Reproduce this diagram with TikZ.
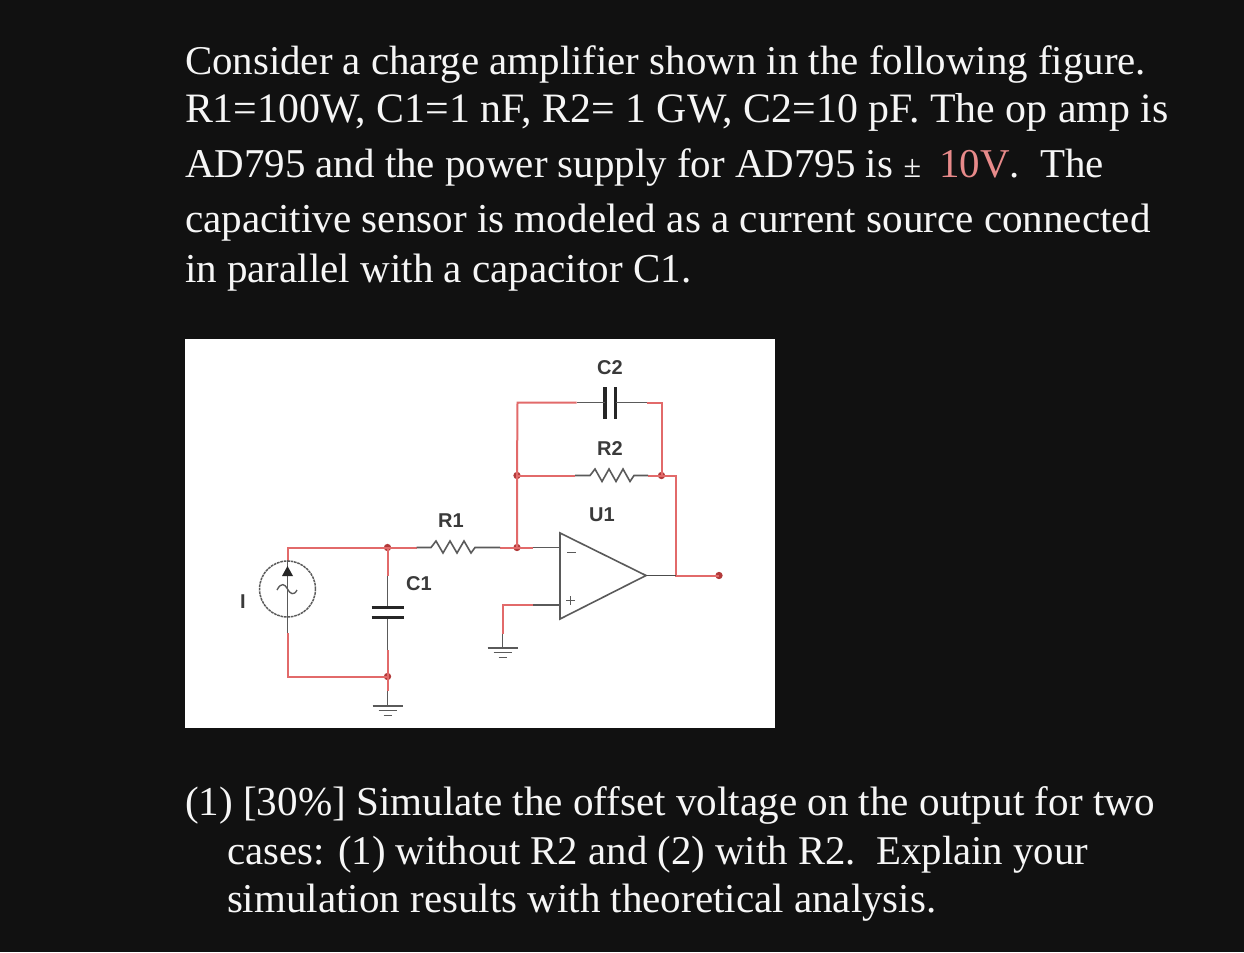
\documentclass[tikz,border=0pt]{standalone}
\usepackage{fontspec}
\setmainfont{Liberation Serif}
\newfontfamily\labelfont{Liberation Sans}
\definecolor{bgc}{HTML}{111111}
\definecolor{wirered}{HTML}{E26A6A}
\definecolor{wiregray}{HTML}{5A5A5A}
\definecolor{nodedot}{HTML}{B23A3A}
\definecolor{labelc}{HTML}{3A3A3A}
\definecolor{pinkc}{HTML}{E88A8A}
\definecolor{textc}{HTML}{F6F6F6}
\newcommand{\parasize}[1]{\fontsize{#1}{#1}\selectfont}
\tikzset{
  x=0.75pt,y=-0.75pt,
  para/.style={anchor=base west,inner sep=0pt,outer sep=0pt,text=textc},
  partlabel/.style={inner sep=0pt,text=labelc,font=\labelfont\bfseries\fontsize{15}{15}\selectfont},
  redw/.style={draw=wirered,line width=1.5pt,line join=miter},
  grayw/.style={draw=wiregray,line width=1.2pt},
  thinw/.style={draw=wiregray,line width=1pt},
  plate/.style={draw=black!85,line width=2.4pt},
  dotj/.style={circle,fill=nodedot,inner sep=0pt,minimum size=5.5pt},
  pt/.style={inner sep=0pt,outer sep=0pt,minimum size=0pt},
}
\begin{document}
\begin{tikzpicture}
\useasboundingbox (0,0) rectangle (1244,952);
\fill[bgc] (0,0) rectangle (1244,952);
% text
\node[para,font=\parasize{30.67}] (t1) at (185,75) {Consider a charge amplifier shown in the following figure.};
\node[para,font=\parasize{31.4}] (t2) at (185,123) {R1=100W, C1=1 nF, R2= 1 GW, C2=10 pF. The op amp is};
\node[para,font=\parasize{30.7}] (t3) at (185,178) {AD795 and the power supply for AD795 is {\fontsize{24}{24}\selectfont ±}\hspace{6pt} \textcolor{pinkc}{10V}.\ \ The};
\node[para,font=\parasize{30.83}] (t4) at (185,233) {capacitive sensor is modeled as a current source connected};
\node[para,font=\parasize{30.8}] (t5) at (185,282) {in parallel with a capacitor C1.};
\node[para,font=\parasize{30.83}] (t6) at (185,815) {(1) [30\%] Simulate the offset voltage on the output for two};
\node[para,font=\parasize{30.6}] (t7) at (227,864) {cases: (1) without R2 and (2) with R2.\ \ Explain your};
\node[para,font=\parasize{30.75}] (t8) at (227,912) {simulation results with theoretical analysis.};
% panel
\fill[white] (185,339) rectangle (775,728);
% points
\coordinate (srcT) at (287.5,547.5);
\coordinate (srcB) at (287.5,676.5);
\coordinate (c1T) at (387.5,607.5);
\coordinate (c1B) at (387.5,617.5);
\node[dotj] (j1) at (387.5,547.5) {};
\node[dotj] (j2) at (387.5,676.5) {};
\node[dotj] (j3) at (517,547.5) {};
\node[dotj] (j4) at (517,475.5) {};
\node[dotj] (j5) at (661.5,475.5) {};
\node[dotj] (out) at (719,575.5) {};
\coordinate (topL) at (517.5,402.5);
\coordinate (topR) at (661.5,402.5);
\coordinate (outbend) at (675.5,475.5);
\coordinate (outjoin) at (675.5,575.5);
\coordinate (pin) at (502.5,605);
\coordinate (g2) at (502.5,648);
\coordinate (g1) at (387.5,706);
% wires red
\draw[redw] (416.5,547.5) -- (j1.center) -- (srcT) -- (287.5,561);
\draw[redw] (j1.center) -- (387.5,576);
\draw[redw] (387.5,650) -- (j2.center);
\draw[redw] (287.5,633) -- (srcB) -- (j2.center) -- (387.5,691);
\draw[redw] (500,547.5) -- (j3.center) -- (532.5,547.5);
\draw[redw] (j3.center) -- (j4.center) -- (topL) -- (576.5,402.5);
\draw[redw] (646.5,402.5) -- (topR) -- (j5.center);
\draw[redw] (j4.center) -- (575,475.5);
\draw[redw] (648,475.5) -- (j5.center) -- (outbend) -- (outjoin) -- (out.center);
\draw[redw] (533,605) -- (pin) -- (502.5,634);
% gray
\draw[grayw] (287.5,617) -- (287.5,633);
\draw[grayw] (387.5,576) -- (c1T);
\draw[grayw] (c1B) -- (387.5,650);
\draw[grayw] (387.5,691) -- (g1);
\draw[grayw] (502.5,634) -- (g2);
\draw[plate] (371.5,607.5) -- (403.5,607.5);
\draw[plate] (371.5,617.5) -- (403.5,617.5);
\draw[plate] (605,387) -- (605,419);
\draw[plate] (615.5,387) -- (615.5,419);
\draw[grayw] (576.5,402.5) -- (605,402.5);
\draw[grayw] (615.5,402.5) -- (646.5,402.5);
% grounds
\foreach \gx/\gy in {387.5/706,502.5/648}{
  \draw[thinw] (\gx-15,\gy) -- (\gx+15,\gy);
  \draw[thinw] (\gx-9,\gy+4.7) -- (\gx+9,\gy+4.7);
  \draw[thinw] (\gx-4,\gy+9.5) -- (\gx+4,\gy+9.5);
}
% resistors
\draw[grayw] (416.5,547.5) -- (431,547.5) -- (436,541) -- (443,553) -- (450,541) -- (457,553) -- (464,541) -- (471,553) -- (475,547.5) -- (500,547.5);
\draw[grayw] (575,475.5) -- (590,475.5) -- (595,469) -- (602,481.5) -- (609,469) -- (616,481.5) -- (623,469) -- (630,481.5) -- (634,475.5) -- (648,475.5);
% source
\node[circle,draw=wiregray,dash pattern=on 2pt off .6pt,line width=1.1pt,inner sep=0pt,minimum size=42pt,fill=white] (src) at (287.5,589) {};
\draw[grayw] (src.south) -- (287.5,570);
\draw[grayw] (src.north) -- (287.5,567);
\fill[black!85] (287.5,566) -- (282,576) -- (293,576) -- cycle;
\draw[thinw] (277,590) .. controls (281,582) and (285,584) .. (287.5,589) .. controls (290,594) and (294,596) .. (297,590);
% opamp
\node[pt] (tipA) at (646,575.5) {};
\draw[draw=wiregray,line width=1.2pt,line join=miter] (560,533) -- (tipA.center) -- (560,619) -- cycle;
\draw[grayw] (532.5,547.5) -- (560,547.5);
\draw[grayw] (533,605) -- (560,605);
\draw[draw=black!70,line width=1.3pt] (tipA.center) -- (675.5,575.5);
\draw[thinw] (567,552.5) -- (576,552.5);
\draw[thinw] (566,600.5) -- (575,600.5) (570.5,596) -- (570.5,605);
% labels
\node[partlabel] (lC2) at (610,368) {C2};
\node[partlabel] (lR2) at (610,449) {R2};
\node[partlabel] (lU1) at (602,515) {U1};
\node[partlabel] (lR1) at (451,521) {R1};
\node[partlabel] (lC1) at (419,584) {C1};
\node[partlabel] (lI) at (243,602) {I};
\end{tikzpicture}
\end{document}
